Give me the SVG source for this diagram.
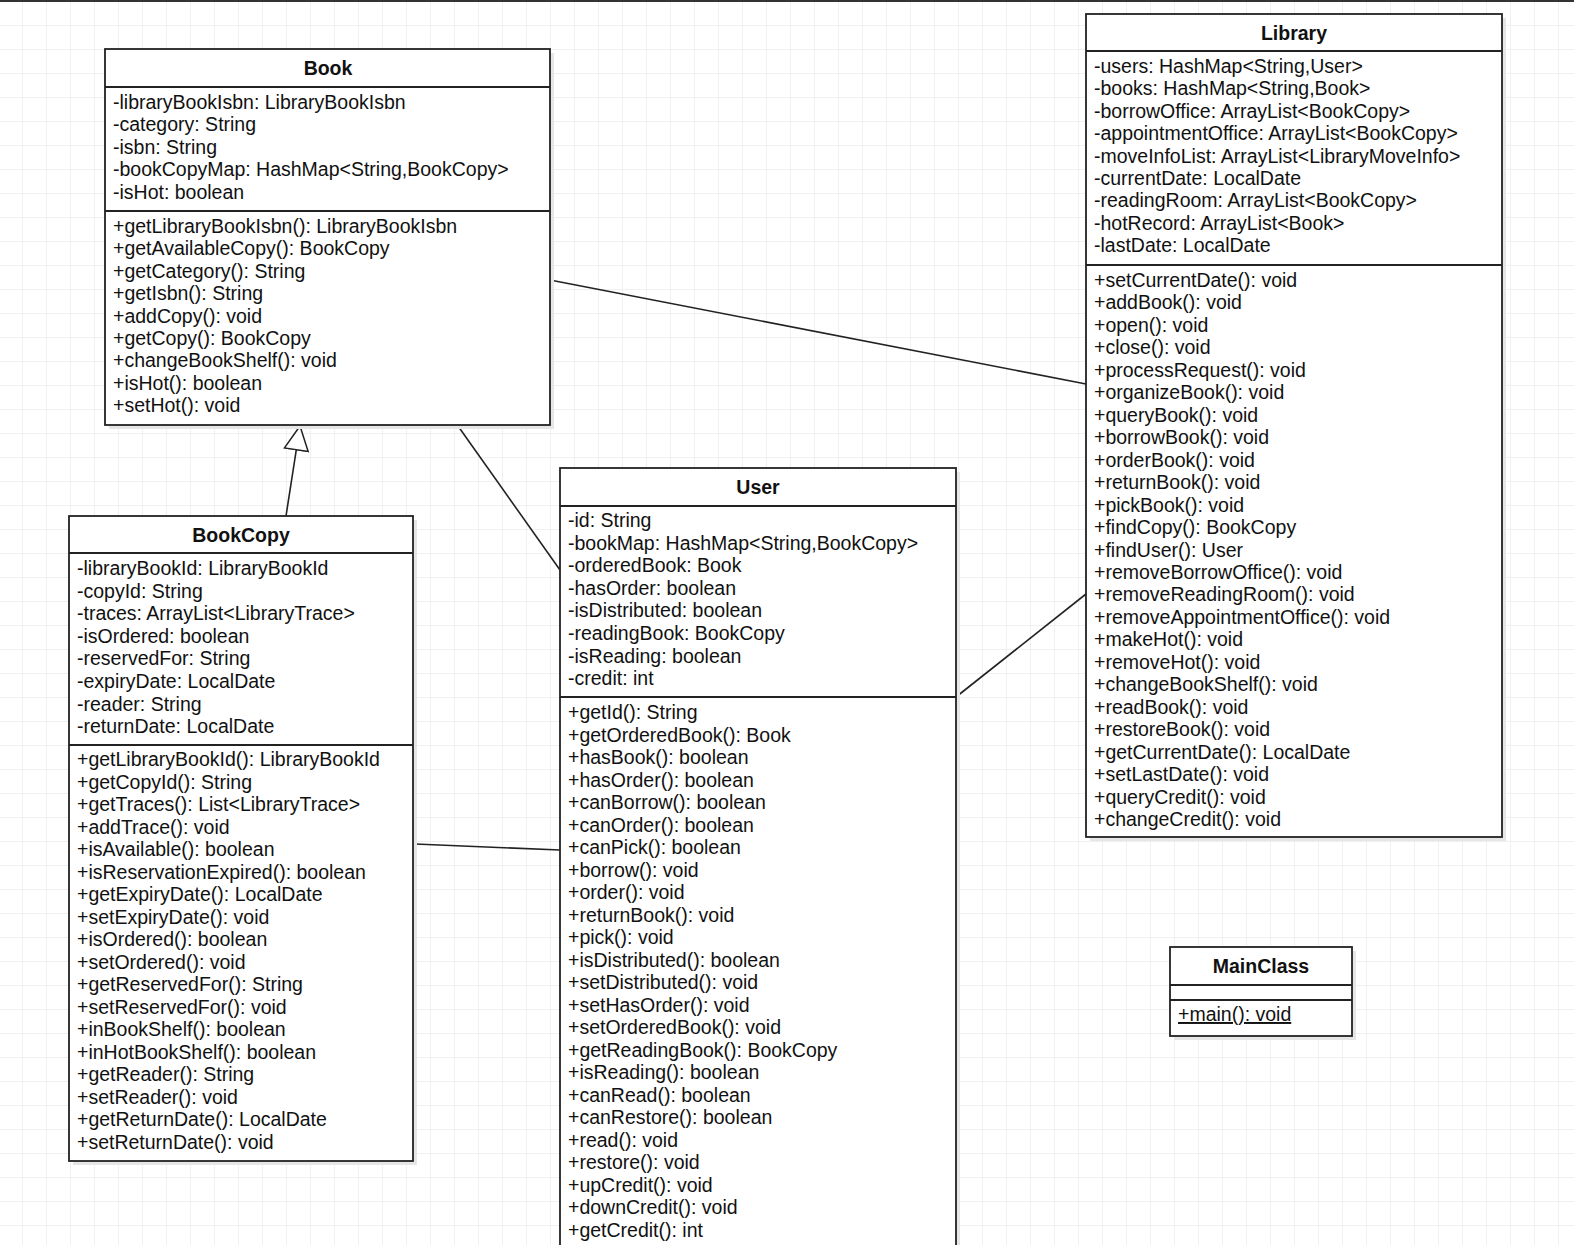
<svg xmlns="http://www.w3.org/2000/svg" width="1574" height="1245" viewBox="0 0 1574 1245">
<defs>
<pattern id="grid" x="22" y="1" width="24" height="24" patternUnits="userSpaceOnUse"><path d="M0 0H24M0 0V24" fill="none" stroke="#ebebeb" stroke-width="1.5"/></pattern>
<marker id="tri" markerWidth="26" markerHeight="34" refX="25" refY="13" orient="auto" markerUnits="userSpaceOnUse"><path d="M1 1L25 13L1 25Z" fill="#fff" stroke="#222" stroke-width="1.5"/></marker>
</defs>
<style>
.box{fill:#fff;stroke:#222;stroke-width:1.8}
.sh{fill:#e6e6e6}
.sep{stroke:#222;stroke-width:1.8}
.t{font-family:"Liberation Sans",Arial,sans-serif;font-size:19.5px;fill:#111}
.h{font-family:"Liberation Sans",Arial,sans-serif;font-size:19.5px;font-weight:bold;fill:#111;text-anchor:middle}
.c{stroke:#222;stroke-width:1.6;fill:none}
</style>
<rect width="1574" height="1245" fill="#fff"/>
<rect width="1574" height="1245" fill="url(#grid)"/>
<rect width="1574" height="2" fill="#333"/>

<g id="connectors">
<path class="c" d="M550 280L1086 384"/>
<path class="c" d="M458 426L560 570"/>
<path class="c" d="M956 697L1086 594"/>
<path class="c" d="M415 844L560 850"/>
<path class="c" d="M286 516L300 426" marker-end="url(#tri)"/>
</g>

<g id="Book">
<rect class="sh" x="109" y="53" width="445" height="376"/>
<rect class="box" x="105" y="49" width="445" height="376"/>
<line class="sep" x1="105" y1="87" x2="550" y2="87"/><line class="sep" x1="105" y1="211" x2="550" y2="211"/>
<text class="h" x="328" y="75">Book</text>
<text class="t" x="113" y="109">-libraryBookIsbn: LibraryBookIsbn<tspan x="113" dy="22.4">-category: String</tspan><tspan x="113" dy="22.4">-isbn: String</tspan><tspan x="113" dy="22.4">-bookCopyMap: HashMap&lt;String,BookCopy&gt;</tspan><tspan x="113" dy="22.4">-isHot: boolean</tspan></text>
<text class="t" x="113" y="233">+getLibraryBookIsbn(): LibraryBookIsbn<tspan x="113" dy="22.4">+getAvailableCopy(): BookCopy</tspan><tspan x="113" dy="22.4">+getCategory(): String</tspan><tspan x="113" dy="22.4">+getIsbn(): String</tspan><tspan x="113" dy="22.4">+addCopy(): void</tspan><tspan x="113" dy="22.4">+getCopy(): BookCopy</tspan><tspan x="113" dy="22.4">+changeBookShelf(): void</tspan><tspan x="113" dy="22.4">+isHot(): boolean</tspan><tspan x="113" dy="22.4">+setHot(): void</tspan></text>
</g>

<g id="BookCopy">
<rect class="sh" x="73" y="520" width="344" height="645"/>
<rect class="box" x="69" y="516" width="344" height="645"/>
<line class="sep" x1="69" y1="553" x2="413" y2="553"/><line class="sep" x1="69" y1="745" x2="413" y2="745"/>
<text class="h" x="241" y="542">BookCopy</text>
<text class="t" x="77" y="575">-libraryBookId: LibraryBookId<tspan x="77" dy="22.6">-copyId: String</tspan><tspan x="77" dy="22.6">-traces: ArrayList&lt;LibraryTrace&gt;</tspan><tspan x="77" dy="22.6">-isOrdered: boolean</tspan><tspan x="77" dy="22.6">-reservedFor: String</tspan><tspan x="77" dy="22.6">-expiryDate: LocalDate</tspan><tspan x="77" dy="22.6">-reader: String</tspan><tspan x="77" dy="22.6">-returnDate: LocalDate</tspan></text>
<text class="t" x="77" y="766">+getLibraryBookId(): LibraryBookId<tspan x="77" dy="22.5">+getCopyId(): String</tspan><tspan x="77" dy="22.5">+getTraces(): List&lt;LibraryTrace&gt;</tspan><tspan x="77" dy="22.5">+addTrace(): void</tspan><tspan x="77" dy="22.5">+isAvailable(): boolean</tspan><tspan x="77" dy="22.5">+isReservationExpired(): boolean</tspan><tspan x="77" dy="22.5">+getExpiryDate(): LocalDate</tspan><tspan x="77" dy="22.5">+setExpiryDate(): void</tspan><tspan x="77" dy="22.5">+isOrdered(): boolean</tspan><tspan x="77" dy="22.5">+setOrdered(): void</tspan><tspan x="77" dy="22.5">+getReservedFor(): String</tspan><tspan x="77" dy="22.5">+setReservedFor(): void</tspan><tspan x="77" dy="22.5">+inBookShelf(): boolean</tspan><tspan x="77" dy="22.5">+inHotBookShelf(): boolean</tspan><tspan x="77" dy="22.5">+getReader(): String</tspan><tspan x="77" dy="22.5">+setReader(): void</tspan><tspan x="77" dy="22.5">+getReturnDate(): LocalDate</tspan><tspan x="77" dy="22.5">+setReturnDate(): void</tspan></text>
</g>

<g id="User">
<rect class="sh" x="564" y="472" width="396" height="790"/>
<rect class="box" x="560" y="468" width="396" height="790"/>
<line class="sep" x1="560" y1="506" x2="956" y2="506"/><line class="sep" x1="560" y1="697" x2="956" y2="697"/>
<text class="h" x="758" y="494">User</text>
<text class="t" x="568" y="527">-id: String<tspan x="568" dy="22.6">-bookMap: HashMap&lt;String,BookCopy&gt;</tspan><tspan x="568" dy="22.6">-orderedBook: Book</tspan><tspan x="568" dy="22.6">-hasOrder: boolean</tspan><tspan x="568" dy="22.6">-isDistributed: boolean</tspan><tspan x="568" dy="22.6">-readingBook: BookCopy</tspan><tspan x="568" dy="22.6">-isReading: boolean</tspan><tspan x="568" dy="22.6">-credit: int</tspan></text>
<text class="t" x="568" y="719">+getId(): String<tspan x="568" dy="22.5">+getOrderedBook(): Book</tspan><tspan x="568" dy="22.5">+hasBook(): boolean</tspan><tspan x="568" dy="22.5">+hasOrder(): boolean</tspan><tspan x="568" dy="22.5">+canBorrow(): boolean</tspan><tspan x="568" dy="22.5">+canOrder(): boolean</tspan><tspan x="568" dy="22.5">+canPick(): boolean</tspan><tspan x="568" dy="22.5">+borrow(): void</tspan><tspan x="568" dy="22.5">+order(): void</tspan><tspan x="568" dy="22.5">+returnBook(): void</tspan><tspan x="568" dy="22.5">+pick(): void</tspan><tspan x="568" dy="22.5">+isDistributed(): boolean</tspan><tspan x="568" dy="22.5">+setDistributed(): void</tspan><tspan x="568" dy="22.5">+setHasOrder(): void</tspan><tspan x="568" dy="22.5">+setOrderedBook(): void</tspan><tspan x="568" dy="22.5">+getReadingBook(): BookCopy</tspan><tspan x="568" dy="22.5">+isReading(): boolean</tspan><tspan x="568" dy="22.5">+canRead(): boolean</tspan><tspan x="568" dy="22.5">+canRestore(): boolean</tspan><tspan x="568" dy="22.5">+read(): void</tspan><tspan x="568" dy="22.5">+restore(): void</tspan><tspan x="568" dy="22.5">+upCredit(): void</tspan><tspan x="568" dy="22.5">+downCredit(): void</tspan><tspan x="568" dy="22.5">+getCredit(): int</tspan></text>
</g>

<g id="Library">
<rect class="sh" x="1090" y="18" width="416" height="823"/>
<rect class="box" x="1086" y="14" width="416" height="823"/>
<line class="sep" x1="1086" y1="51" x2="1502" y2="51"/><line class="sep" x1="1086" y1="265" x2="1502" y2="265"/>
<text class="h" x="1294" y="40">Library</text>
<text class="t" x="1094" y="73">-users: HashMap&lt;String,User&gt;<tspan x="1094" dy="22.4">-books: HashMap&lt;String,Book&gt;</tspan><tspan x="1094" dy="22.4">-borrowOffice: ArrayList&lt;BookCopy&gt;</tspan><tspan x="1094" dy="22.4">-appointmentOffice: ArrayList&lt;BookCopy&gt;</tspan><tspan x="1094" dy="22.4">-moveInfoList: ArrayList&lt;LibraryMoveInfo&gt;</tspan><tspan x="1094" dy="22.4">-currentDate: LocalDate</tspan><tspan x="1094" dy="22.4">-readingRoom: ArrayList&lt;BookCopy&gt;</tspan><tspan x="1094" dy="22.4">-hotRecord: ArrayList&lt;Book&gt;</tspan><tspan x="1094" dy="22.4">-lastDate: LocalDate</tspan></text>
<text class="t" x="1094" y="287">+setCurrentDate(): void<tspan x="1094" dy="22.46">+addBook(): void</tspan><tspan x="1094" dy="22.46">+open(): void</tspan><tspan x="1094" dy="22.46">+close(): void</tspan><tspan x="1094" dy="22.46">+processRequest(): void</tspan><tspan x="1094" dy="22.46">+organizeBook(): void</tspan><tspan x="1094" dy="22.46">+queryBook(): void</tspan><tspan x="1094" dy="22.46">+borrowBook(): void</tspan><tspan x="1094" dy="22.46">+orderBook(): void</tspan><tspan x="1094" dy="22.46">+returnBook(): void</tspan><tspan x="1094" dy="22.46">+pickBook(): void</tspan><tspan x="1094" dy="22.46">+findCopy(): BookCopy</tspan><tspan x="1094" dy="22.46">+findUser(): User</tspan><tspan x="1094" dy="22.46">+removeBorrowOffice(): void</tspan><tspan x="1094" dy="22.46">+removeReadingRoom(): void</tspan><tspan x="1094" dy="22.46">+removeAppointmentOffice(): void</tspan><tspan x="1094" dy="22.46">+makeHot(): void</tspan><tspan x="1094" dy="22.46">+removeHot(): void</tspan><tspan x="1094" dy="22.46">+changeBookShelf(): void</tspan><tspan x="1094" dy="22.46">+readBook(): void</tspan><tspan x="1094" dy="22.46">+restoreBook(): void</tspan><tspan x="1094" dy="22.46">+getCurrentDate(): LocalDate</tspan><tspan x="1094" dy="22.46">+setLastDate(): void</tspan><tspan x="1094" dy="22.46">+queryCredit(): void</tspan><tspan x="1094" dy="22.46">+changeCredit(): void</tspan></text>
</g>

<g id="MainClass">
<rect class="sh" x="1174" y="951" width="182" height="89"/>
<rect class="box" x="1170" y="947" width="182" height="89"/>
<line class="sep" x1="1170" y1="985" x2="1352" y2="985"/><line class="sep" x1="1170" y1="1000" x2="1352" y2="1000"/>
<text class="h" x="1261" y="973">MainClass</text>
<text class="t" x="1178" y="1021" text-decoration="underline">+main(): void</text>
</g>
</svg>
